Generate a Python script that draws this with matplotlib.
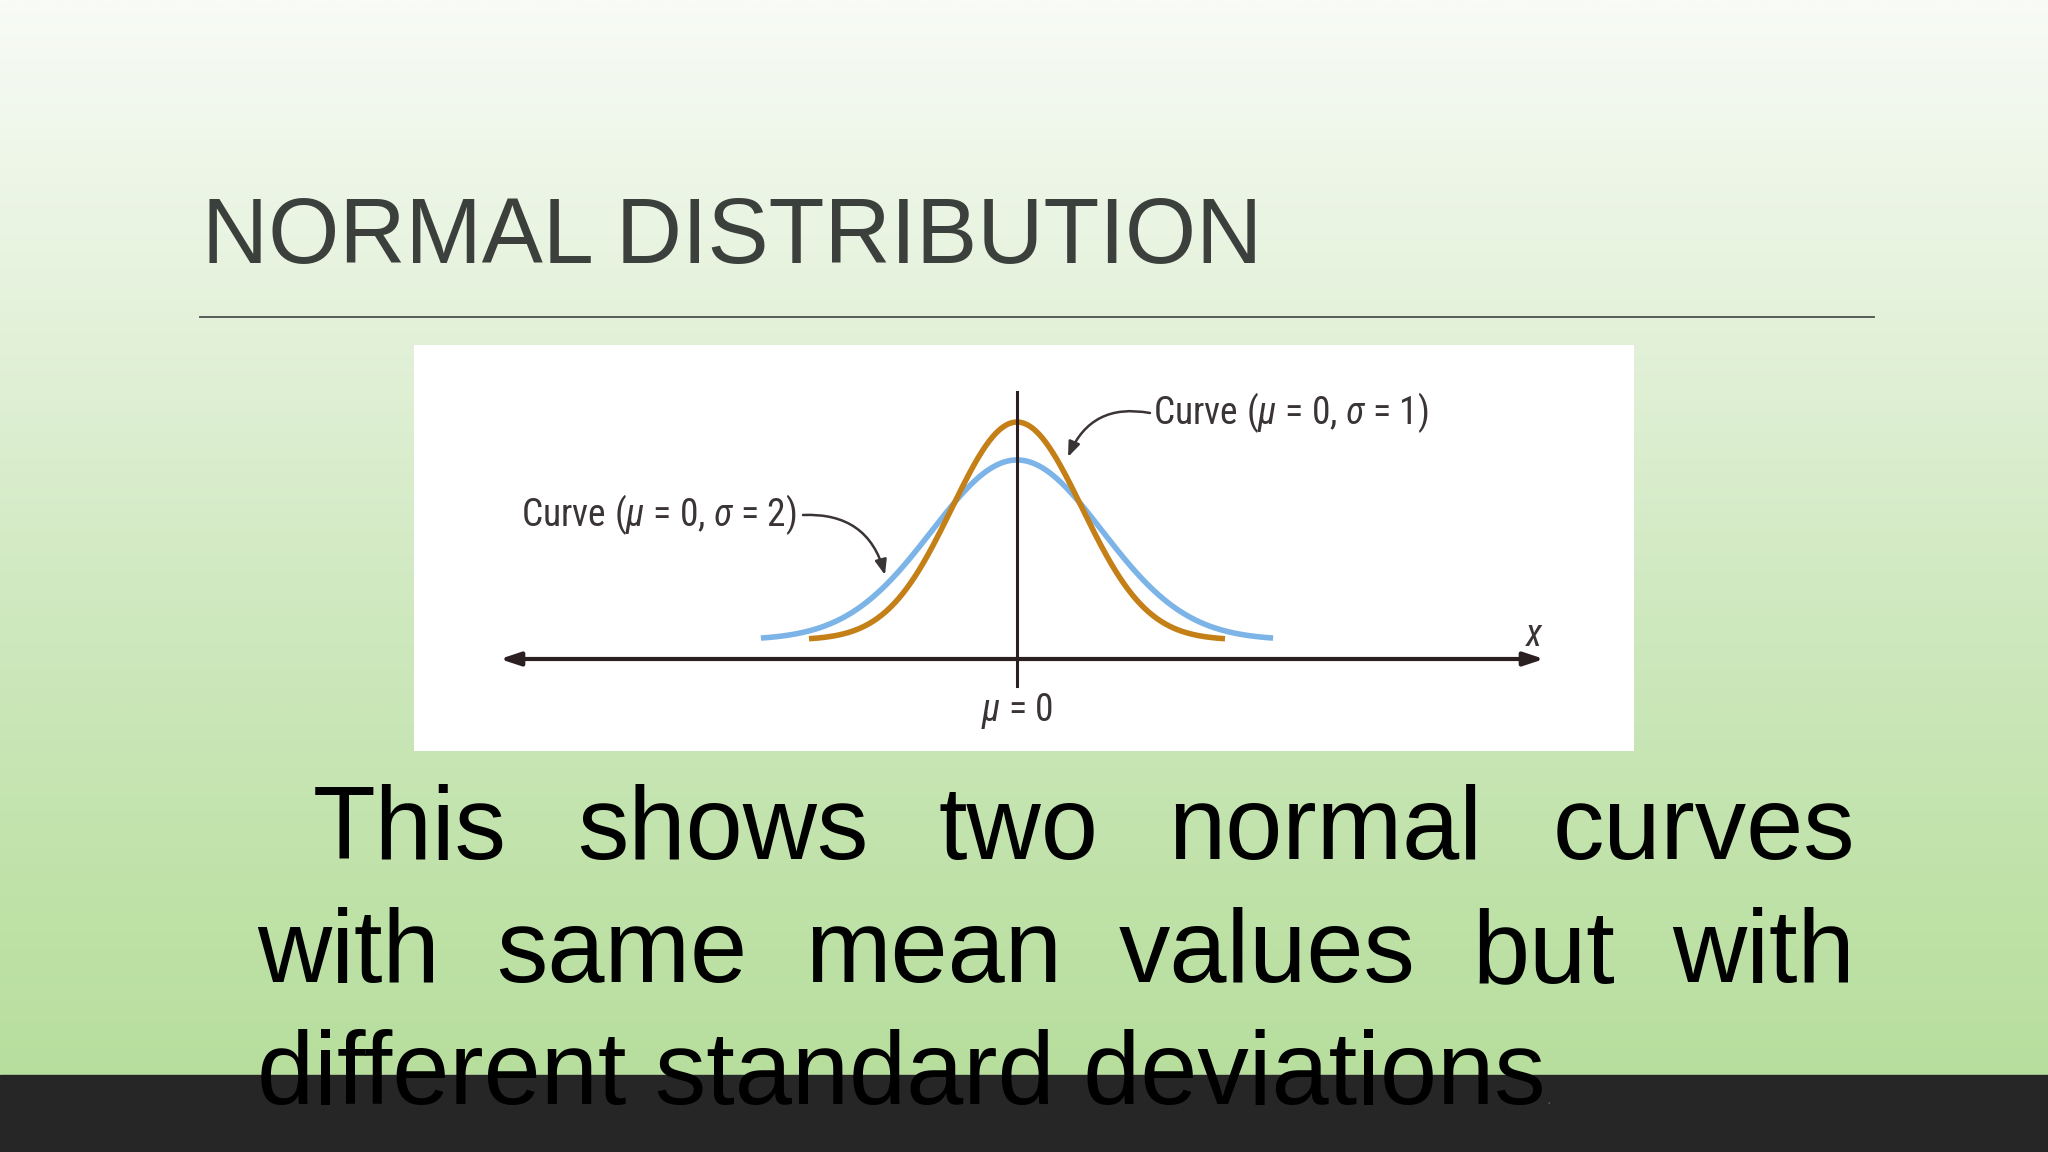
import numpy as np
import matplotlib
matplotlib.use("Agg")
import matplotlib.pyplot as plt
from matplotlib import font_manager
from matplotlib.colors import LinearSegmentedColormap

# ---------------- data ----------------
title = "NORMAL DISTRIBUTION"
curve_labels = ["Curve ($\\mu$ = 0, $\\sigma$ = 1)", "Curve ($\\mu$ = 0, $\\sigma$ = 2)"]
curve_mu = [0.0, 0.0]
curve_sigma = [1, 2]
# drawn (illustrative, not to scale) shape of each curve as it appears in the picture
drawn_sigma = [1.0, 1.31]
drawn_peak = [1.0, 0.826]
drawn_extent = [3.2, 3.94]
curve_base = 0.087
mean_label = "$\\mu$ = 0"
axis_label = "$x$"
body_lines = [
    ["This", "shows", "two", "normal", "curves"],
    ["with", "same", "mean", "values", "but", "with"],
    ["different standard deviations"],
]

# ---------------- fonts ----------------
ttf = font_manager.fontManager.ttflist
names = {f.name for f in ttf}
sans = "Liberation Sans" if "Liberation Sans" in names else "DejaVu Sans"
narrow = None
narrow_stretch = "normal"
for cand in ["Liberation Sans Narrow", "Roboto Condensed", "Open Sans Condensed"]:
    if cand in names:
        narrow = cand
        break
if narrow is None:
    if any(f.name == "DejaVu Sans" and str(f.stretch) in ("condensed", "semi-condensed") for f in ttf):
        narrow = "DejaVu Sans"
        narrow_stretch = "condensed"
    else:
        narrow = sans
plt.rcParams["mathtext.fontset"] = "custom"
if narrow_stretch == "condensed":
    plt.rcParams["mathtext.rm"] = narrow + ":condensed"
    plt.rcParams["mathtext.it"] = narrow + ":italic:condensed"
else:
    plt.rcParams["mathtext.rm"] = narrow
    plt.rcParams["mathtext.it"] = narrow + ":italic"
lab_kw = dict(family=narrow, fontstretch=narrow_stretch)
lab_size = 27 if narrow != sans else 22

W, H = 2048, 1152
fig = plt.figure(figsize=(W / 100, H / 100), dpi=100)

def fx(px):
    return px / W

def fy(py):
    return 1 - py / H

# ---------------- background gradient ----------------
bg = fig.add_axes([0, 0, 1, 1], zorder=0)
bg.set_axis_off()
grad_cmap = LinearSegmentedColormap.from_list(
    "g", [(0.0, "#f8fbf6"), (0.26, "#e5f2dc"), (0.52, "#d0e9c0"),
          (0.78, "#bfe2a8"), (1.0, "#b5dd9a")])
g = np.linspace(0, 1, 512).reshape(-1, 1)
bg.imshow(g, aspect="auto", cmap=grad_cmap, extent=[0, 1, 0, 1], origin="upper")
bg.set_xlim(0, 1)
bg.set_ylim(0, 1)
# bottom dark bar
bg.axhspan(0, fy(1075), color="#262626", zorder=2)
# title rule
bg.plot([fx(200), fx(1874)], [fy(317), fy(317)], color="#4a4f4a", lw=1.3, zorder=2)

# ---------------- title ----------------
fig.text(fx(202), fy(263), title, fontsize=66, family=sans, color="#3c403c",
         va="baseline", ha="left", zorder=5)

# ---------------- chart ----------------
box = [414, 345, 1634, 751]
ax = fig.add_axes([fx(box[0]), fy(box[3]), fx(box[2] - box[0]), (box[3] - box[1]) / H], zorder=3)
ax.set_facecolor("white")
for s in ax.spines.values():
    s.set_visible(False)
ax.set_xticks([])
ax.set_yticks([])
cx, unit_x = 1017, 65.0
axis_y, unit_y = 659, 218.0
ax.set_xlim((box[0] - cx) / unit_x, (box[2] - cx) / unit_x)
ax.set_ylim((axis_y - box[3]) / unit_y, (axis_y - box[1]) / unit_y)

colors = ["#c47f16", "#7cb4e8"]
for i in [1, 0]:
    xs = np.linspace(curve_mu[i] - drawn_extent[i], curve_mu[i] + drawn_extent[i], 400)
    ys = curve_base + drawn_peak[i] * np.exp(-0.5 * ((xs - curve_mu[i]) / drawn_sigma[i]) ** 2)
    ax.plot(xs, ys, color=colors[i], lw=4.0, solid_capstyle="butt", zorder=3 + (1 - i))

axis_col = "#2b1f22"
x_left, x_right = (500 - cx) / unit_x, (1544 - cx) / unit_x
ax.annotate("", xy=(x_right, 0), xytext=(x_left, 0),
            arrowprops=dict(arrowstyle="<|-|>,head_length=1.2,head_width=0.4",
                            color=axis_col, lw=3.0, shrinkA=0, shrinkB=0), zorder=5)
ax.plot([0, 0], [(axis_y - 392) / unit_y, (axis_y - 686) / unit_y], color=axis_col, lw=2.2, zorder=6)

lab_col = "#3a3436"
ax.text((1153 - cx) / unit_x, (axis_y - 413) / unit_y, curve_labels[0], fontsize=lab_size,
        color=lab_col, ha="left", va="center", zorder=7, **lab_kw)
ax.text((797 - cx) / unit_x, (axis_y - 515) / unit_y, curve_labels[1], fontsize=lab_size,
        color=lab_col, ha="right", va="center", zorder=7, **lab_kw)
ax.annotate("", xy=((1068 - cx) / unit_x, (axis_y - 457) / unit_y),
            xytext=((1150 - cx) / unit_x, (axis_y - 413) / unit_y),
            arrowprops=dict(arrowstyle="-|>,head_length=0.9,head_width=0.35",
                            connectionstyle="arc3,rad=0.4", color=lab_col, lw=1.8,
                            shrinkA=0, shrinkB=0), zorder=7)
ax.annotate("", xy=((885 - cx) / unit_x, (axis_y - 575) / unit_y),
            xytext=((803 - cx) / unit_x, (axis_y - 515) / unit_y),
            arrowprops=dict(arrowstyle="-|>,head_length=0.9,head_width=0.35",
                            connectionstyle="arc3,rad=-0.4", color=lab_col, lw=1.8,
                            shrinkA=0, shrinkB=0), zorder=7)
ax.text(0, (axis_y - 711) / unit_y, mean_label, fontsize=lab_size, color=lab_col,
        ha="center", va="center", zorder=7, **lab_kw)
ax.text((1535 - cx) / unit_x, (axis_y - 636) / unit_y, axis_label, fontsize=lab_size,
        color=lab_col, ha="center", va="center", zorder=7, **lab_kw)

# ---------------- body text (justified) ----------------
renderer = fig.canvas.get_renderer()
body_size = 74
line_specs = [(313, 1855, 859, True), (257, 1855, 982, True), (257, None, 1104, False)]
for words, (x0, x1, yb, just) in zip(body_lines, line_specs):
    texts = [fig.text(0, fy(yb), w, fontsize=body_size, family=sans, color="black",
                      va="baseline", ha="left", zorder=6) for w in words]
    if just and len(texts) > 1:
        widths = [t.get_window_extent(renderer).width for t in texts]
        gap = (x1 - x0 - sum(widths)) / (len(texts) - 1)
        x = x0
        for t, wd in zip(texts, widths):
            t.set_x(fx(x))
            x += wd + gap
    else:
        texts[0].set_x(fx(x0))
        wd = texts[0].get_window_extent(renderer).width
        fig.text(fx(x0 + wd + 1), fy(yb), ".", fontsize=12, family=sans, color="#555555",
                 va="baseline", ha="left", zorder=6)

fig.savefig("out.png", dpi=100)
